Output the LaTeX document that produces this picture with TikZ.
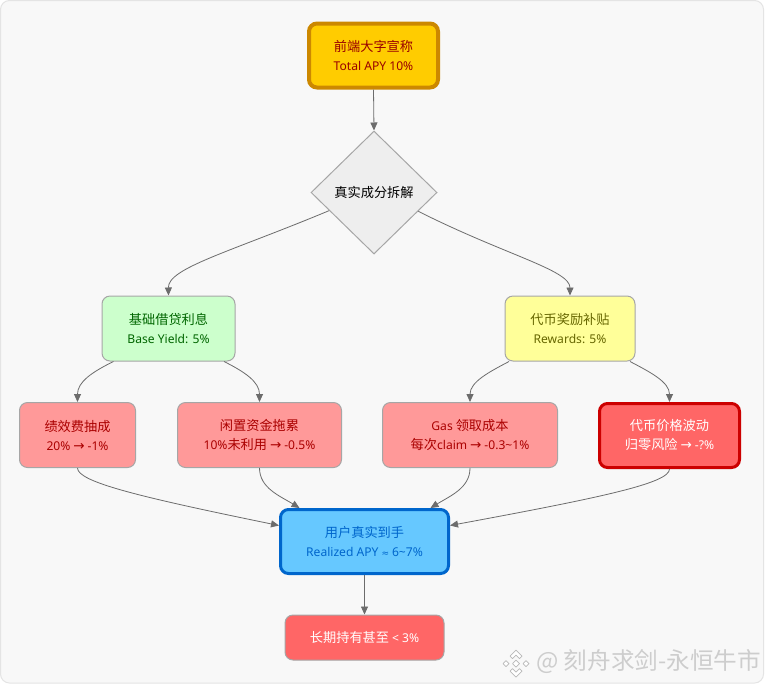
\documentclass[tikz,border=0pt]{standalone}
\usepackage{fontspec}
\setmainfont{Noto Sans}
\newfontfamily\cjk{Noto Sans CJK SC}
\newfontfamily\sym{DejaVu Sans}
\newfontfamily\latn{Noto Sans}
\usetikzlibrary{shapes.geometric,arrows.meta,calc}
\definecolor{panelbg}{HTML}{F8F8F8}
\definecolor{panelln}{HTML}{E4E4E4}
\definecolor{edgeln}{HTML}{6C6C6C}
\definecolor{softln}{HTML}{A6A6A6}
\newcommand{\arr}{{\sym\fontsize{13.5}{19}\selectfont →}}
\newcommand{\lt}[1]{{\latn\fontsize{12.1}{19}\selectfont #1}}
\tikzset{
  x=1pt,y=-1pt,
  boxbase/.style={draw=softln,line width=1pt,rounded corners=8pt,align=center,inner sep=0pt,
    font=\fontsize{13.2}{19}\selectfont\cjk},
  costbox/.style={boxbase,fill={rgb,255:red,255;green,153;blue,153},text={rgb,255:red,170;green,0;blue,0}},
  link/.style={draw=edgeln,line width=0.8pt,-{Stealth[length=8pt,width=7pt,inset=0pt]}}
}
\begin{document}
\begin{tikzpicture}
\useasboundingbox (0,0) rectangle (767,689);
\fill[white] (0,0) rectangle (767,689);
\draw[panelln,fill=panelbg,line width=1pt,rounded corners=9pt] (0.5,0.5) rectangle (763.5,683);

\node[boxbase,draw={rgb,255:red,204;green,136;blue,0},line width=4pt,fill={rgb,255:red,255;green,204;blue,0},text={rgb,255:red,153;green,0;blue,0},
  minimum width=129pt,minimum height=64pt] (top) at (373.5,55.5) {前端大字宣称\\\lt{Total APY 10\%}};
\node[diamond,draw=softln,line width=1pt,fill={rgb,255:red,238;green,238;blue,238},inner sep=0pt,minimum width=126pt,minimum height=123pt,
  font=\fontsize{13.2}{19}\selectfont\cjk,text=black] (split) at (374,192.5) {真实成分拆解};

\node[boxbase,fill={rgb,255:red,204;green,255;blue,204},text={rgb,255:red,0;green,102;blue,0},minimum width=133pt,minimum height=65pt] (base) at (168.5,328.5) {基础借贷利息\\\lt{Base Yield: 5\%}};
\node[boxbase,fill={rgb,255:red,255;green,255;blue,153},text={rgb,255:red,102;green,102;blue,0},minimum width=130pt,minimum height=65pt] (rewards) at (570,328.5) {代币奖励补贴\\\lt{Rewards: 5\%}};

\node[costbox,minimum width=116pt,minimum height=65pt] (fee) at (77.5,435) {绩效费抽成\\\lt{20\%} \arr{} \lt{-1\%}};
\node[costbox,minimum width=164pt,minimum height=65pt] (idle) at (259.5,435) {闲置资金拖累\\\lt{10\%}未利用 \arr{} \lt{-0.5\%}};
\node[costbox,minimum width=175pt,minimum height=65pt] (gas) at (470,435) {\lt{Gas} 领取成本\\每次\lt{claim} \arr{} \lt{-0.3\textasciitilde 1\%}};
\node[boxbase,draw={rgb,255:red,204;green,0;blue,0},line width=3pt,fill={rgb,255:red,255;green,102;blue,102},text=white,minimum width=140pt,minimum height=64pt] (risk) at (669.5,435.5) {代币价格波动\\归零风险 \arr{} \lt{-?\%}};

\node[boxbase,draw={rgb,255:red,0;green,102;blue,204},line width=3pt,fill={rgb,255:red,102;green,200;blue,255},text={rgb,255:red,0;green,102;blue,204},minimum width=168pt,minimum height=64pt] (user) at (364.5,541.5) {用户真实到手\\\lt{Realized APY} {\sym\fontsize{9}{19}\selectfont ≈} \lt{6\textasciitilde 7\%}};
\node[boxbase,fill={rgb,255:red,255;green,102;blue,102},text=white,minimum width=159pt,minimum height=45pt] (long) at (364.5,637.5) {长期持有甚至 \lt{< 3\%}};

\draw[link] (top.south) -- (split.north);
\draw[link] (split.202) .. controls (230,252) and (168,268) .. (base.north);
\draw[link] (split.-23) .. controls (505,255) and (570,270) .. (rewards.north);
\draw[link] ([xshift=-55pt]base.south) .. controls (92,372) and (77.5,382) .. (fee.north);
\draw[link] ([xshift=55.5pt]base.south) .. controls (245,372) and (259.5,382) .. (idle.north);
\draw[link] ([xshift=-61pt]rewards.south) .. controls (489,372) and (470,382) .. (gas.north);
\draw[link] ([xshift=60pt]rewards.south) .. controls (650,372) and (669.5,382) .. (risk.north);
\draw[link] (fee.south) .. controls (77.5,482) and (140,497) .. ([yshift=16pt]user.west);
\draw[link] (idle.south) .. controls (259.5,488) and (280,496) .. ([xshift=-65pt]user.north);
\draw[link] (gas.south) .. controls (470,488) and (450,496) .. ([xshift=66pt]user.north);
\draw[link] (risk.south) .. controls (669.5,483) and (604,497) .. ([yshift=16pt]user.east);
\draw[link] (user.south) -- (long.north);

% watermark logo
\begin{scope}[shift={(516,663.5)},draw=black!28,fill=white,line width=0.7pt,line join=round]
  \filldraw (0,-13.5) -- (6,-7.5) -- (3.5,-5) -- (0,-8.5) -- (-3.5,-5) -- (-6,-7.5) -- cycle;
  \filldraw (0,13.5) -- (6,7.5) -- (3.5,5) -- (0,8.5) -- (-3.5,5) -- (-6,7.5) -- cycle;
  \filldraw (-13,0) -- (-10,-3) -- (-7,0) -- (-10,3) -- cycle;
  \filldraw (13,0) -- (10,-3) -- (7,0) -- (10,3) -- cycle;
  \filldraw (0,-3.5) -- (3.5,0) -- (0,3.5) -- (-3.5,0) -- cycle;
\end{scope}
\node[anchor=west,inner sep=0pt,text={rgb,255:red,205;green,205;blue,205},font=\fontsize{23.6}{26}\selectfont\cjk] (mark) at (536,662) {@ 刻舟求剑-永恒牛市};
\end{tikzpicture}
\end{document}
